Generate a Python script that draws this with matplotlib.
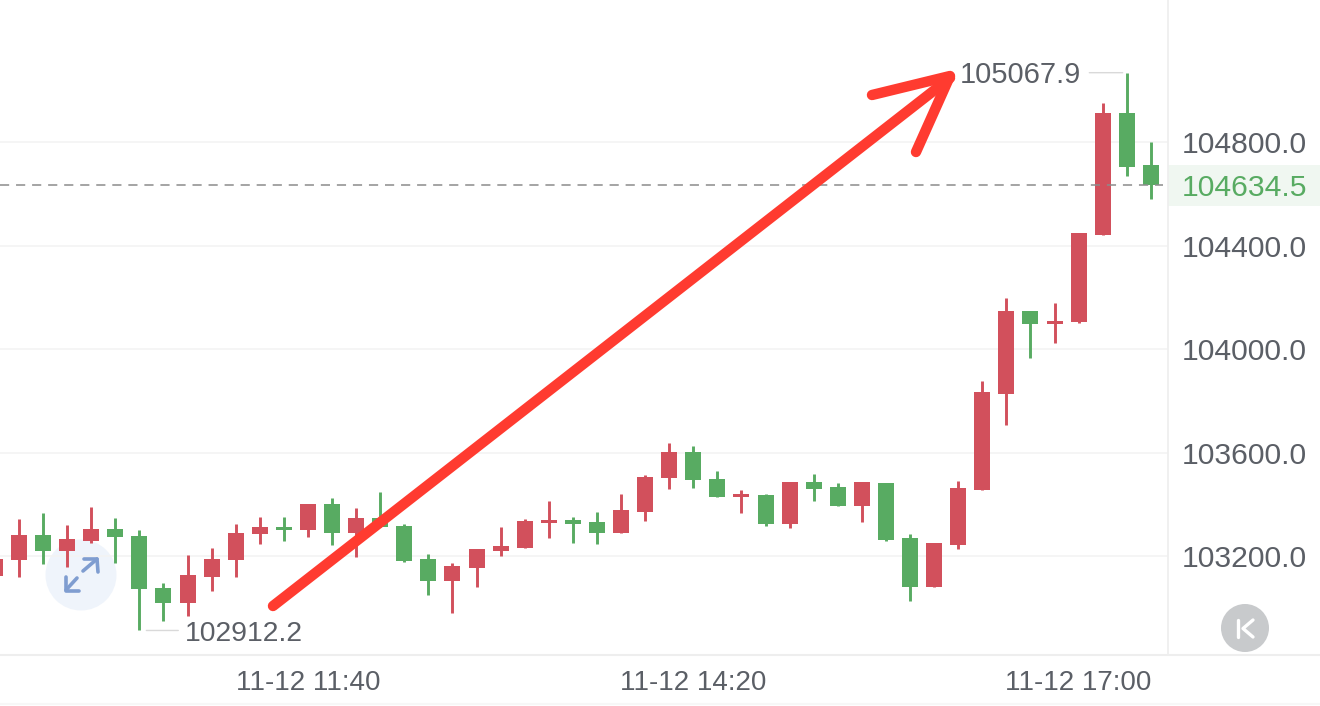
"""Candlestick screenshot: 10 minute bars with a hand-drawn red arrow on top."""
import matplotlib

matplotlib.use("Agg")
import matplotlib.pyplot as plt  # noqa: E402
import numpy as np  # noqa: E402
from matplotlib.patches import Circle, Rectangle  # noqa: E402

plt.rcParams["font.family"] = ["Liberation Sans", "DejaVu Sans"]

opens = [103123, 103185, 103281, 103219, 103258, 103304, 103277, 103076, 103018, 103119,
         103185, 103285, 103312, 103300, 103401, 103289, 103347, 103316, 103188, 103104,
         103154, 103219, 103231, 103327, 103339, 103331, 103289, 103370, 103501, 103602,
         103498, 103428, 103436, 103324, 103486, 103467, 103393, 103482, 103270, 103080,
         103243, 103455, 103826, 104147, 104097, 104104, 104441, 104912, 104711]
closes = [103188, 103281, 103219, 103266, 103304, 103273, 103073, 103018, 103127, 103188,
          103289, 103312, 103300, 103401, 103289, 103347, 103312, 103181, 103104, 103161,
          103227, 103239, 103335, 103339, 103324, 103289, 103378, 103505, 103602, 103494,
          103428, 103440, 103324, 103486, 103459, 103393, 103486, 103262, 103080, 103250,
          103463, 103834, 104147, 104097, 104108, 104448, 104912, 104703, 104634.5]
highs = [103200, 103343, 103366, 103320, 103389, 103347, 103300, 103096, 103204, 103231,
         103324, 103351, 103351, 103401, 103424, 103385, 103447, 103324, 103208, 103173,
         103227, 103312, 103343, 103413, 103351, 103370, 103440, 103513, 103637, 103625,
         103529, 103455, 103440, 103486, 103517, 103482, 103486, 103482, 103285, 103250,
         103490, 103876, 104197, 104147, 104178, 104448, 104951, 105067.9, 104800]
lows = [103100, 103119, 103169, 103158, 103250, 103173, 102912.2, 102949, 102968, 103065,
        103119, 103246, 103258, 103273, 103243, 103196, 103312, 103177, 103049, 102980,
        103080, 103200, 103231, 103270, 103250, 103246, 103289, 103335, 103459, 103463,
        103428, 103366, 103316, 103308, 103413, 103393, 103331, 103258, 103026, 103080,
        103227, 103455, 103706, 103965, 104023, 104100, 104441, 104669, 104580]

y_ticks = [103200.0, 103600.0, 104000.0, 104400.0, 104800.0]
x_ticks = [13, 29, 45]
x_labels = ["11-12 11:40", "11-12 14:20", "11-12 17:00"]
last_price = 104634.5
max_price = 105067.9
min_price = 102912.2

RED = "#d2505c"
GREEN = "#58ab62"
TEXT = "#5b5f66"
GRID = "#f3f3f3"
EDGE = "#eeeeee"

W, H = 1320, 706
fig = plt.figure(figsize=(W / 100, H / 100), dpi=100, facecolor="white")


def px_axes(zorder):
    a = fig.add_axes([0, 0, 1, 1], zorder=zorder)
    a.set_xlim(0, W)
    a.set_ylim(H, 0)
    a.axis("off")
    return a


back = px_axes(0)
ax = fig.add_axes([0, (H - 655) / H, 1168 / W, 655 / H], zorder=1)
front = px_axes(2)
ax.patch.set_alpha(0)

# things behind the candles
back.add_patch(Rectangle((1168, 165), 152, 41, color="#f0f7f1", lw=0))
back.add_patch(Circle((81, 575), 35.5, color="#eff4fb", lw=0))
back.plot([0, W], [655, 655], color=EDGE, lw=1.5)
back.plot([0, W], [704, 704], color="#f7f7f7", lw=1.5)

# candles
x = np.arange(len(opens))
opens_a, closes_a = np.array(opens), np.array(closes)
colors = [RED if c >= o else GREEN for o, c in zip(opens, closes)]
ax.vlines(x, lows, highs, colors=colors, lw=2.1, zorder=3)
ax.bar(x, np.abs(closes_a - opens_a), bottom=np.minimum(opens_a, closes_a),
       width=0.664, color=colors, lw=0, zorder=3)

ax.set_xlim(0.212, 48.71)
ax.set_ylim(102817.4, 105348.8)
ax.grid(axis="y", color=GRID, lw=1.2, zorder=0)
ax.set_axisbelow(True)

ax.yaxis.tick_right()
ax.set_yticks(y_ticks + [last_price])
ax.set_yticklabels([f"{v:.1f}" for v in y_ticks] + [f"{last_price:.1f}"], fontsize=21.7, color=TEXT)
ax.get_yticklabels()[-1].set_color(GREEN)
ax.get_ygridlines()[-1].set_visible(False)
ax.set_xticks(x_ticks)
ax.set_xticklabels(x_labels, fontsize=20, color=TEXT)
ax.tick_params(axis="y", length=0, pad=10)
ax.tick_params(axis="x", length=0, pad=11)
for name, sp in ax.spines.items():
    sp.set_visible(name == "right")
    sp.set_color(EDGE)
    sp.set_linewidth(1.2)

# last price
ax.plot([0.212, 48.5], [last_price, last_price], color="#8c8c8c", lw=1.1, dashes=(6, 4.5), zorder=4)

# max / min markers
ax.annotate("", xy=(47, max_price), xytext=(-27, 0), textcoords="offset points",
            arrowprops=dict(arrowstyle="-", color="#d9d9d9", lw=1, shrinkA=0, shrinkB=3))
ax.annotate(f"{max_price:.1f}", xy=(47, max_price), xytext=(-33, -1.5), textcoords="offset points",
            ha="right", va="center", fontsize=21, color=TEXT)
ax.annotate("", xy=(6, min_price), xytext=(28, 0), textcoords="offset points",
            arrowprops=dict(arrowstyle="-", color="#d9d9d9", lw=1, shrinkA=0, shrinkB=5))
ax.annotate(f"{min_price:.1f}", xy=(6, min_price), xytext=(33, -2.5), textcoords="offset points",
            ha="left", va="center", fontsize=20.4, color=TEXT)

# hand-drawn arrow
ARROW = "#ff3b30"
front.plot([273, 950], [606, 78], color=ARROW, lw=7.5, solid_capstyle="round")
front.plot([872, 950, 916], [95, 76, 152], color=ARROW, lw=7.5,
           solid_capstyle="round", solid_joinstyle="round")

# expand icon
ICON = "#7f9dd0"
for xs, ys in [([83, 97], [571, 559]), ([84, 97, 98], [559, 559, 572]),
               ([77, 66], [578, 590]), ([66, 66, 79], [577, 591, 591])]:
    front.plot(xs, ys, color=ICON, lw=2.6, solid_capstyle="round", solid_joinstyle="round")

# back-to-latest button
front.add_patch(Circle((1245, 628), 24, color="#c8cacc", lw=0))
front.plot([1238, 1238], [620, 637], color="white", lw=2.4, solid_capstyle="round")
front.plot([1253, 1243, 1253], [620, 628.5, 637], color="white", lw=2.4, solid_capstyle="round")

fig.savefig("out.png", dpi=100, facecolor="white")
